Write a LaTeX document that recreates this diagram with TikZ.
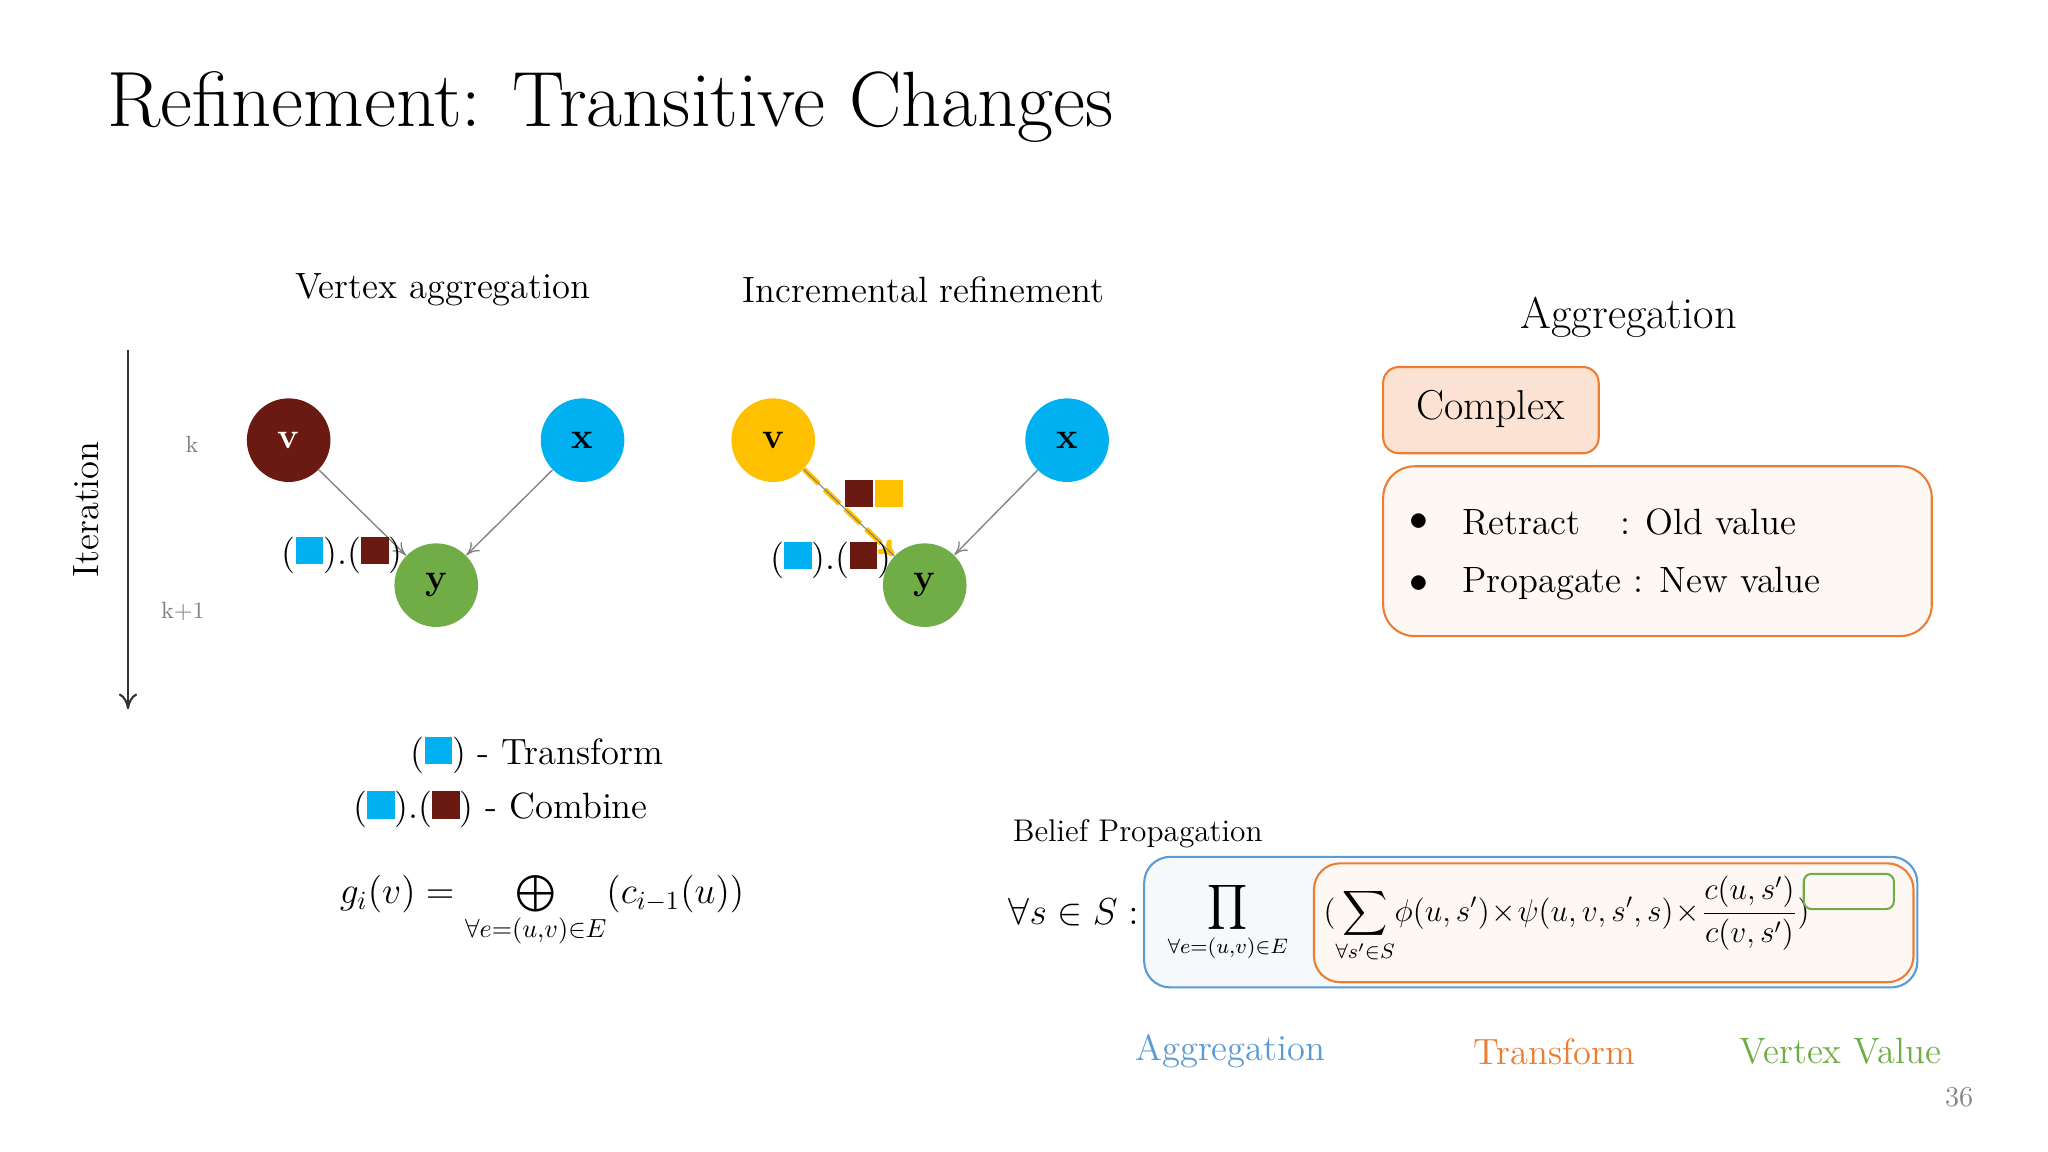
\documentclass[tikz,border=0pt]{standalone}
\usepackage{amsmath,amssymb}
\usetikzlibrary{arrows.meta}
\definecolor{vred}{HTML}{6B1A12}
\definecolor{vcyan}{HTML}{00B0F0}
\definecolor{vgreen}{HTML}{70AD47}
\definecolor{vyel}{HTML}{FFC000}
\definecolor{vorg}{HTML}{ED7D31}
\definecolor{vblue}{HTML}{5B9BD5}
\newcommand{\sqc}[1]{\textcolor{#1}{\rule{0.75em}{0.75em}}}
\tikzset{
  vtx/.style={circle,minimum size=32pt,inner sep=0pt,font=\fontsize{14}{16}\selectfont\bfseries},
  edg/.style={draw=gray,-{To[length=5pt,width=5pt]},line width=0.5pt},
  txt/.style={font=\fontsize{14}{17}\selectfont,inner sep=0pt},
  ftxt/.style={font=\fontsize{12}{14}\selectfont,inner sep=0pt},
  obox/.style={draw=vorg,line width=0.8pt,rounded corners=6pt}
}
\begin{document}
\begin{tikzpicture}[x=0.5pt,y=-0.5pt]
\useasboundingbox[fill=white] (0,0) rectangle (1568,882);
\node[anchor=west,font=\fontsize{30}{34}\selectfont,inner sep=0pt] (title) at (82,82) {Refinement: Transitive Changes};
\node[txt] (h1) at (339,222) {Vertex aggregation};
\node[txt] (h2) at (707,222) {Incremental refinement};
% iteration axis
\coordinate (it1) at (98,268); \coordinate (it2) at (98,543);
\draw[-{To[length=6pt,width=7pt]},line width=0.8pt,black!80] (it1) -- (it2);
\node[txt,rotate=90] (iter) at (66,390) {Iteration};
\node[font=\fontsize{9}{10}\selectfont,text=gray] (k) at (147,340) {k};
\node[font=\fontsize{9}{10}\selectfont,text=gray] (k1) at (140,468) {k+1};
% left graph
\node[vtx,fill=vred,text=white] (v1) at (221,337) {v};
\node[vtx,fill=vcyan] (x1) at (446,337) {x};
\node[vtx,fill=vgreen] (y1) at (334,448) {y};
\draw[edg] (v1) -- (y1);
\draw[edg] (x1) -- (y1);
\node[txt] (l1) at (262,425) {(\sqc{vcyan}).(\sqc{vred})};
% right graph
\node[vtx,fill=vyel] (v2) at (592,337) {v};
\node[vtx,fill=vcyan] (x2) at (817,337) {x};
\node[vtx,fill=vgreen] (y2) at (708,448) {y};
\draw[vyel,line width=2pt,dash pattern=on 8pt off 3pt,-{To[length=6pt,width=7pt]}] (v2) -- (y2);
\draw[draw=gray,line width=0.4pt] (v2) -- (y2);
\draw[edg] (x2) -- (y2);
\node[txt] (sq) at (669,378) {\sqc{vred}\hspace{1pt}\sqc{vyel}};
\node[txt] (l2) at (636,429) {(\sqc{vcyan}).(\sqc{vred})};
% legend
\node[txt,anchor=west] (lg1) at (314,578) {(\sqc{vcyan})\ -\ Transform};
\node[txt,anchor=west] (lg2) at (270,620) {(\sqc{vcyan}).(\sqc{vred})\ -\ Combine};
\node[txt] (g) at (415,698) {$g_i(v)=\bigoplus\limits_{\forall e=(u,v)\in E}(c_{i-1}(u))$};
% aggregation panel
\node[font=\fontsize{17}{20}\selectfont] (agg) at (1247,243) {Aggregation};
\draw[obox,fill=vorg!22] (1059,281) rectangle (1224,347);
\node[font=\fontsize{16}{19}\selectfont] (cx) at (1141,313) {Complex};
\draw[obox,fill=vorg!5,rounded corners=12pt] (1059,357) rectangle (1479,487);
\node[txt] (b1) at (1086,400) {$\bullet$};
\node[txt,anchor=west] (r1) at (1119,400) {Retract};
\node[txt,anchor=west] (r2) at (1240,400) {: Old value};
\node[txt] (b2) at (1086,447) {$\bullet$};
\node[txt,anchor=west] (p1) at (1119,447) {Propagate : New value};
% belief propagation
\node[ftxt,anchor=west] (bp) at (775,638) {Belief Propagation};
\draw[draw=vblue,line width=0.8pt,fill=vblue!6,rounded corners=10pt] (876,656) rectangle (1468,756);
\draw[draw=vorg,line width=0.8pt,fill=vorg!5,rounded corners=10pt] (1006,661) rectangle (1465,752);
\node[txt] (fa) at (822,698) {$\forall s\in S:$};
\node[ftxt] (pr) at (940,706) {$\displaystyle\prod_{\forall e=(u,v)\in E}$};
\node[ftxt,anchor=west] (sm) at (1013,704) {$\displaystyle(\sum_{\forall s'\in S}\!\phi(u,s')\!\times\!\psi(u,v,s',s)\!\times\!\frac{c(u,s')}{c(v,s')})$};
\draw[draw=vgreen,line width=0.8pt,rounded corners=3pt] (1381,669) rectangle (1450,696);
\node[txt,text=vblue] (la) at (942,805) {Aggregation};
\node[txt,text=vorg] (lt) at (1190,805) {Transform};
\node[txt,text=vgreen] (lv) at (1409,805) {Vertex Value};
\node[font=\fontsize{11}{13}\selectfont,text=gray] (pg) at (1500,840) {36};
\end{tikzpicture}
\end{document}
